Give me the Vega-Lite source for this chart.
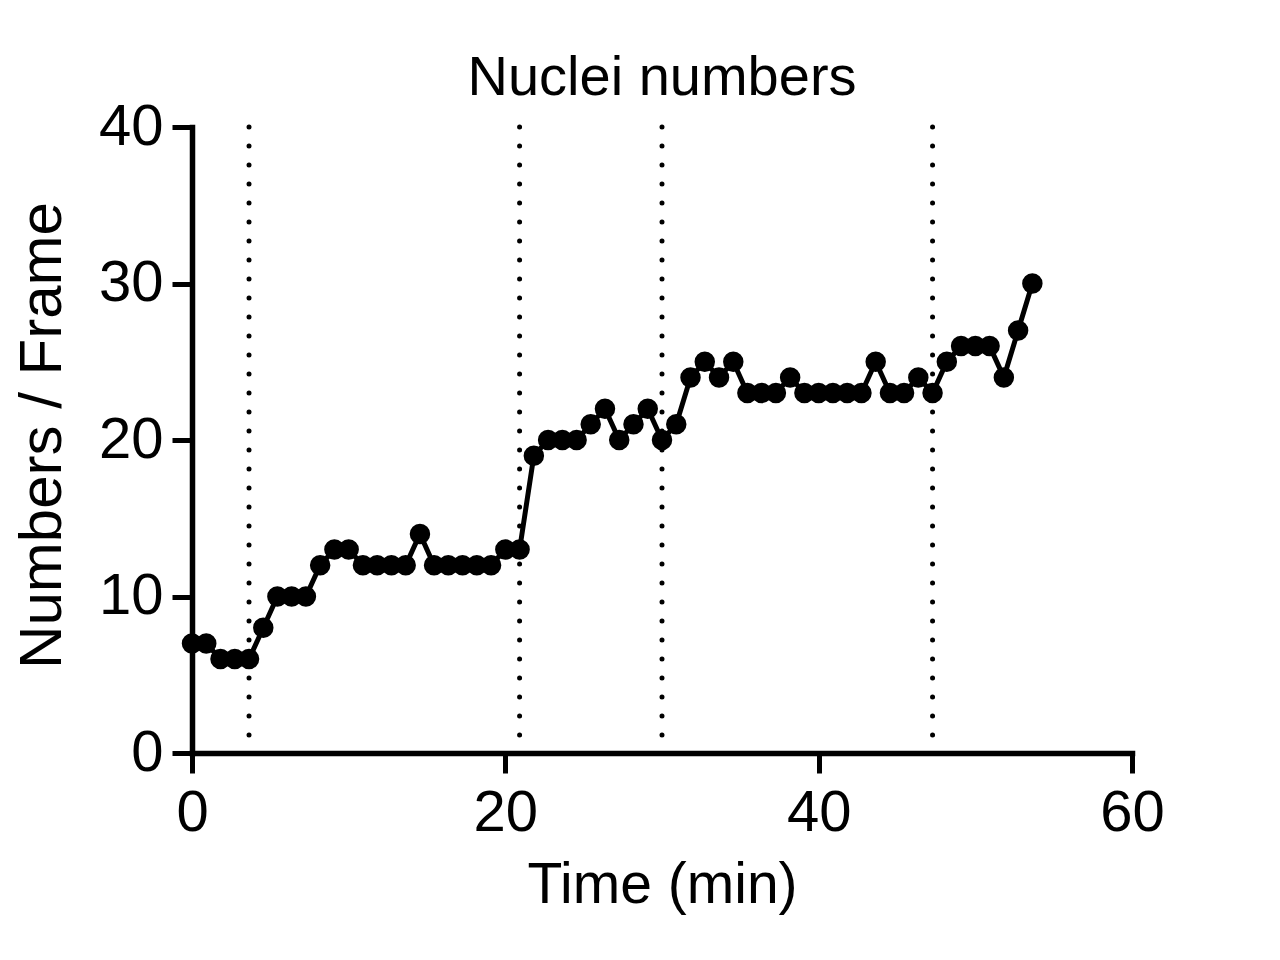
{
  "$schema": "https://vega.github.io/schema/vega-lite/v6.json",
  "width": 940,
  "height": 626,
  "autosize": {"type": "none"},
  "padding": {"left": 192, "top": 127, "right": 148, "bottom": 207},
  "background": "white",
  "title": {
    "text": "Nuclei numbers",
    "font": "Liberation Sans",
    "fontSize": 56,
    "fontWeight": "normal",
    "color": "black",
    "anchor": "middle",
    "baseline": "alphabetic",
    "frame": "group",
    "offset": -53
  },
  "datasets": {
    "counts": [
      {"t": 0, "n": 7}, {"t": 0.91, "n": 7}, {"t": 1.82, "n": 6}, {"t": 2.73, "n": 6},
      {"t": 3.64, "n": 6}, {"t": 4.55, "n": 8}, {"t": 5.45, "n": 10}, {"t": 6.36, "n": 10},
      {"t": 7.27, "n": 10}, {"t": 8.18, "n": 12}, {"t": 9.09, "n": 13}, {"t": 10, "n": 13},
      {"t": 10.91, "n": 12}, {"t": 11.82, "n": 12}, {"t": 12.73, "n": 12}, {"t": 13.64, "n": 12},
      {"t": 14.55, "n": 14}, {"t": 15.45, "n": 12}, {"t": 16.36, "n": 12}, {"t": 17.27, "n": 12},
      {"t": 18.18, "n": 12}, {"t": 19.09, "n": 12}, {"t": 20, "n": 13}, {"t": 20.91, "n": 13},
      {"t": 21.82, "n": 19}, {"t": 22.73, "n": 20}, {"t": 23.64, "n": 20}, {"t": 24.55, "n": 20},
      {"t": 25.45, "n": 21}, {"t": 26.36, "n": 22}, {"t": 27.27, "n": 20}, {"t": 28.18, "n": 21},
      {"t": 29.09, "n": 22}, {"t": 30, "n": 20}, {"t": 30.91, "n": 21}, {"t": 31.82, "n": 24},
      {"t": 32.73, "n": 25}, {"t": 33.64, "n": 24}, {"t": 34.55, "n": 25}, {"t": 35.45, "n": 23},
      {"t": 36.36, "n": 23}, {"t": 37.27, "n": 23}, {"t": 38.18, "n": 24}, {"t": 39.09, "n": 23},
      {"t": 40, "n": 23}, {"t": 40.91, "n": 23}, {"t": 41.82, "n": 23}, {"t": 42.73, "n": 23},
      {"t": 43.64, "n": 25}, {"t": 44.55, "n": 23}, {"t": 45.45, "n": 23}, {"t": 46.36, "n": 24},
      {"t": 47.27, "n": 23}, {"t": 48.18, "n": 25}, {"t": 49.09, "n": 26}, {"t": 50, "n": 26},
      {"t": 50.91, "n": 26}, {"t": 51.82, "n": 24}, {"t": 52.73, "n": 27}, {"t": 53.64, "n": 30}
    ],
    "markers": [
      {"t": 3.64}, {"t": 20.91}, {"t": 30}, {"t": 47.27}
    ]
  },
  "encoding": {
    "x": {
      "field": "t",
      "type": "quantitative",
      "title": "Time (min)",
      "scale": {"domain": [0, 60], "nice": false, "zero": false},
      "axis": {"values": [0, 20, 40, 60], "labelPadding": 11, "titleY": 149, "titleBaseline": "alphabetic", "titleFontSize": 57}
    }
  },
  "layer": [
    {
      "data": {"name": "markers"},
      "mark": {"type": "rule", "color": "black", "strokeWidth": 5, "strokeDash": [0.1, 18.9], "strokeCap": "round"},
      "encoding": {
        "y": {"datum": 40, "type": "quantitative"},
        "y2": {"datum": 0}
      }
    },
    {
      "data": {"name": "counts"},
      "mark": {"type": "line", "color": "black", "strokeWidth": 5},
      "encoding": {
        "y": {
          "field": "n",
          "type": "quantitative",
          "title": "Numbers / Frame",
          "scale": {"domain": [0, 40], "nice": false},
          "axis": {"values": [0, 10, 20, 30, 40], "labelPadding": 9, "titleX": -132, "titleY": 308, "titleBaseline": "alphabetic", "titleFontSize": 60}
        }
      }
    },
    {
      "data": {"name": "counts"},
      "mark": {"type": "circle", "color": "black", "opacity": 1},
      "encoding": {
        "y": {"field": "n", "type": "quantitative"},
        "size": {"value": 420}
      }
    }
  ],
  "config": {
    "font": "Liberation Sans",
    "view": {"stroke": "transparent"},
    "axis": {
      "grid": false,
      "domainColor": "black",
      "domainWidth": 5.5,
      "domainCap": "square",
      "tickColor": "black",
      "tickWidth": 5,
      "tickSize": 20,
      "labelColor": "black",
      "labelFont": "Liberation Sans",
      "labelFontSize": 58,
      "labelFlush": false,
      "labelOverlap": false,
      "titleColor": "black",
      "titleFont": "Liberation Sans",
      "titleFontWeight": "normal"
    }
  }
}
